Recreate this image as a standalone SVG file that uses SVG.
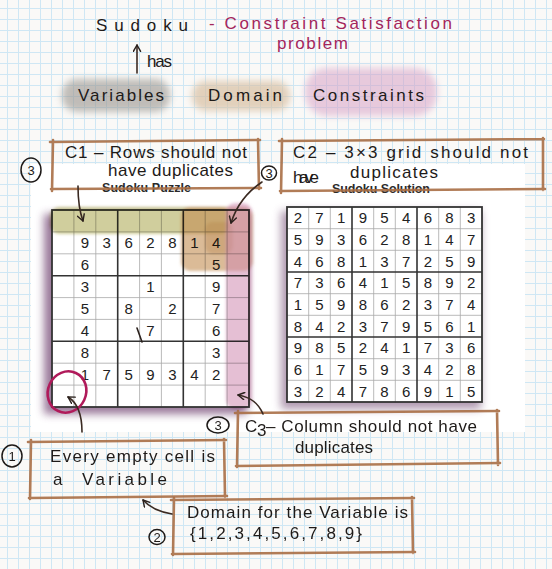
<svg xmlns="http://www.w3.org/2000/svg" width="552" height="569" viewBox="0 0 552 569">
<defs>
<pattern id="grid" x="7" y="8" width="11" height="11" patternUnits="userSpaceOnUse">
<path d="M0 0.5H11M0.5 0V11" stroke="#cfe7f4" stroke-width="1" fill="none"/>
</pattern>
<filter id="blur" x="-30%" y="-30%" width="160%" height="160%"><feGaussianBlur stdDeviation="4"/></filter>
<filter id="blob" x="-30%" y="-30%" width="160%" height="160%"><feGaussianBlur stdDeviation="3.5"/></filter>
<filter id="soft" x="-20%" y="-20%" width="140%" height="140%"><feGaussianBlur stdDeviation="1.6"/></filter>
<marker id="arr" viewBox="0 0 10 10" refX="8" refY="5" markerWidth="9" markerHeight="9" orient="auto" markerUnits="userSpaceOnUse">
<path d="M1,1 L8,5 L1,9" fill="none" stroke="#2a201c" stroke-width="1.6" stroke-linecap="round" stroke-linejoin="round"/>
</marker>
<style>
.hw{font-family:"Liberation Sans","DejaVu Sans",sans-serif;font-size:17px;fill:#1e1a18}
.red{fill:#a3265c}
.box{fill:none;stroke:#a86e45;stroke-width:2.6;stroke-linecap:round;stroke-linejoin:round;opacity:.9}
.num{font-family:"Liberation Sans",Arial,sans-serif;font-size:15px;fill:#222;text-anchor:middle}
.thin{stroke:#a8a8a8;stroke-width:.8}
.thick{stroke:#333;stroke-width:1.6}
.ttl{font-family:"Liberation Sans",Arial,sans-serif;font-weight:bold;font-size:12.5px;fill:#2a2a2a}
.circ{fill:none;stroke:#1e1a18;stroke-width:1.5}
.cn{font-family:"Liberation Sans",sans-serif;font-size:13px;fill:#1e1a18;text-anchor:middle}
.con{fill:none;stroke:#3a2a22;stroke-width:1.6;stroke-linecap:round}
.hl{mix-blend-mode:multiply}
</style>
</defs>

<!-- paper -->
<rect width="552" height="569" fill="#faf9f7"/>
<rect width="552" height="569" fill="url(#grid)"/>
<rect x="31" y="164" width="494" height="268" fill="#ffffff"/>

<!-- title -->
<g id="title">
<path d="M100,38 L188,38" stroke="#2fa3b3" stroke-width="6" stroke-linecap="round" opacity=".85" filter="url(#soft)"/>
<text class="hw" x="96" y="31" font-size="22" textLength="92" lengthAdjust="spacing">Sudoku</text>
<text class="hw red" x="209" y="29" font-size="20" textLength="243" lengthAdjust="spacing">- Constraint Satisfaction</text>
<text class="hw red" x="277" y="49" font-size="18" textLength="71" lengthAdjust="spacing">problem</text>
</g>

<g id="has">
<path class="con" d="M137,73 L137,45" stroke-width="2" marker-end="url(#arr)"/>
<text class="hw" x="147" y="67" font-size="15" textLength="25" lengthAdjust="spacing">has</text>
</g>

<g id="variables">
<rect x="62" y="79" width="108" height="33" rx="15" fill="#9a958f" opacity=".6" filter="url(#blob)"/>
<text class="hw" x="78" y="101" font-size="19" textLength="86" lengthAdjust="spacing">Variables</text>
</g>
<g id="domain">
<rect x="192" y="81" width="98" height="30" rx="14" fill="#d8bfa2" opacity=".7" filter="url(#blob)"/>
<text class="hw" x="208" y="101" font-size="19" textLength="74" lengthAdjust="spacing">Domain</text>
</g>
<g id="constraints">
<rect x="305" y="68" width="132" height="48" rx="22" fill="#d8a2c6" opacity=".55" filter="url(#blob)"/>
<text class="hw" x="313" y="101" font-size="19" textLength="111" lengthAdjust="spacing">Constraints</text>
</g>

<!-- puzzle -->
<g id="puzzle">
<text class="ttl" x="102" y="192" textLength="89" lengthAdjust="spacing">Sudoku Puzzle</text>
<rect x="44" y="214" width="203" height="200" fill="#6e3f6e" opacity=".7" filter="url(#blur)"/>
<rect x="52" y="210" width="197" height="197" fill="#fff"/>
<g class="num">
<text x="84.8 106.7 128.6 150.5 172.4 194.3 216.2" y="248.3">9362814</text>
<text x="84.8 216.2" y="270.2">65</text>
<text x="84.8 150.5 216.2" y="292.1">319</text>
<text x="84.8 128.6 172.4 216.2" y="314">5827</text>
<text x="84.8 150.5 216.2" y="335.9">476</text>
<text x="84.8 216.2" y="357.8">83</text>
<text x="84.8 106.7 128.6 150.5 172.4 194.3 216.2" y="379.7">1759342</text>
</g>
<path class="thin" d="M73.9,210V407M95.8,210V407M139.6,210V407M161.4,210V407M205.2,210V407M227.1,210V407M52,231.9H249M52,253.8H249M52,297.6H249M52,319.4H249M52,363.2H249M52,385.1H249"/>
<path class="thick" d="M117.7,210V407M183.3,210V407M52,275.7H249M52,341.3H249"/>
<rect x="52" y="210" width="197" height="197" fill="none" stroke="#333" stroke-width="1.8"/>
<g class="hl" filter="url(#soft)">
<rect x="50" y="207" width="180" height="27" rx="9" fill="#b0ad5a" opacity=".6"/>
<rect x="181" y="207" width="72" height="64" rx="9" fill="#c38e52" opacity=".6"/>
<rect x="205" y="222" width="28" height="32" rx="8" fill="#b48048" opacity=".35"/>
<rect x="226" y="203" width="26" height="206" rx="9" fill="#cf8ab0" opacity=".55"/>
</g>
<path d="M137,328 L142,342" stroke="#2a201c" stroke-width="1.6" stroke-linecap="round"/>
<ellipse cx="67" cy="392" rx="19" ry="21" transform="rotate(25 67 392)" fill="none" stroke="#b01a5a" stroke-width="2.6"/>
</g>

<!-- solution -->
<g id="solution">
<text class="ttl" x="332" y="193" textLength="98" lengthAdjust="spacing">Sudoku Solution</text>
<rect x="281" y="211" width="200" height="198" fill="#7a527a" opacity=".6" filter="url(#blur)"/>
<rect x="287" y="207" width="195" height="195" fill="#fff"/>
<g class="num">
<text x="297.8 319.5 341.2 362.8 384.5 406.2 427.8 449.5 471.2" y="223.3">271954683</text>
<text x="297.8 319.5 341.2 362.8 384.5 406.2 427.8 449.5 471.2" y="245">593628147</text>
<text x="297.8 319.5 341.2 362.8 384.5 406.2 427.8 449.5 471.2" y="266.7">468137259</text>
<text x="297.8 319.5 341.2 362.8 384.5 406.2 427.8 449.5 471.2" y="288.3">736415892</text>
<text x="297.8 319.5 341.2 362.8 384.5 406.2 427.8 449.5 471.2" y="310">159862374</text>
<text x="297.8 319.5 341.2 362.8 384.5 406.2 427.8 449.5 471.2" y="331.7">842379561</text>
<text x="297.8 319.5 341.2 362.8 384.5 406.2 427.8 449.5 471.2" y="353.3">985241736</text>
<text x="297.8 319.5 341.2 362.8 384.5 406.2 427.8 449.5 471.2" y="375">617593428</text>
<text x="297.8 319.5 341.2 362.8 384.5 406.2 427.8 449.5 471.2" y="396.7">324786915</text>
</g>
<path class="thin" d="M308.7,207V402M330.3,207V402M373.7,207V402M395.3,207V402M438.7,207V402M460.3,207V402M287,228.7H482M287,250.3H482M287,293.7H482M287,315.3H482M287,358.7H482M287,380.3H482"/>
<path class="thick" d="M352,207V402M417,207V402M287,272H482M287,337H482"/>
<rect x="287" y="207" width="195" height="195" fill="none" stroke="#333" stroke-width="1.8"/>
</g>

<!-- notes -->
<g id="c1">
<path class="box" d="M50,142 L260,140 M258,139 L259,189 M261,188 L51,189 M52,191 L53,140"/>
<ellipse class="circ" cx="31" cy="170" rx="10" ry="12"/>
<text class="cn" x="31" y="175" font-size="14">3</text>
<text class="hw" x="65" y="158" textLength="182" lengthAdjust="spacing">C1 – Rows should not</text>
<text class="hw" x="108" y="176" textLength="125" lengthAdjust="spacing">have duplicates</text>
</g>

<g id="c2">
<path class="box" d="M279,141 L544,139 M543,138 L543,190 M545,189 L280,191 M281,193 L282,139"/>
<ellipse class="circ" cx="269" cy="173" rx="7.5" ry="7"/>
<text class="cn" x="269" y="177.5" font-size="11">3</text>
<text class="hw" x="293" y="158" textLength="235" lengthAdjust="spacing">C2 – 3×3 grid should not</text>
<text class="hw" x="293" y="183" font-size="15" textLength="26" lengthAdjust="spacing">have</text>
<text class="hw" x="350" y="178" font-size="13" textLength="88" lengthAdjust="spacing">duplicates</text>
</g>

<g id="c3">
<path class="box" d="M235,413 L499,411 M497,410 L498,465 M500,463 L236,466 M237,467 L238,411"/>
<ellipse class="circ" cx="218" cy="425" rx="11" ry="8"/>
<text class="cn" x="218" y="430" font-size="13">3</text>
<text class="hw" x="245" y="432">C</text>
<text class="hw" x="257" y="436" font-size="11">3</text>
<text class="hw" x="266" y="432" textLength="211" lengthAdjust="spacing">– Column should not have</text>
<text class="hw" x="295" y="453" textLength="78" lengthAdjust="spacing">duplicates</text>
</g>

<g id="variable-note">
<path class="box" d="M28,442 L226,440 M224,439 L225,497 M227,496 L29,498 M30,499 L31,440"/>
<ellipse class="circ" cx="12" cy="456" rx="10" ry="11"/>
<text class="cn" x="12" y="461" font-size="14">1</text>
<text class="hw" x="50" y="462" textLength="165" lengthAdjust="spacing">Every empty cell is</text>
<text class="hw" x="53" y="485">a</text>
<text class="hw" x="82" y="485" textLength="85" lengthAdjust="spacing">Variable</text>
</g>

<g id="domain-note">
<path class="box" d="M171,500 L414,498 M412,497 L413,553 M415,552 L172,554 M173,555 L174,498"/>
<ellipse class="circ" cx="157" cy="537" rx="8" ry="7.5"/>
<text class="cn" x="157" y="541.5" font-size="12">2</text>
<text class="hw" x="187" y="518" textLength="221" lengthAdjust="spacing">Domain for the Variable is</text>
<text class="hw" x="190" y="539" textLength="172" lengthAdjust="spacing">{1,2,3,4,5,6,7,8,9}</text>
</g>

<!-- connectors -->
<g id="connectors">
<path class="con" d="M78,186 C78,200 79,210 83,221" marker-end="url(#arr)"/>
<path class="con" d="M262,182 C250,190 237,204 231,223" marker-end="url(#arr)"/>
<path class="con" d="M263,414 C258,402 250,397 238,395" marker-end="url(#arr)"/>
<path class="con" d="M82,432 C82,415 78,403 68,397" marker-end="url(#arr)"/>
<path class="con" d="M172,514 C160,512 150,508 143,500" marker-end="url(#arr)"/>
</g>
</svg>
